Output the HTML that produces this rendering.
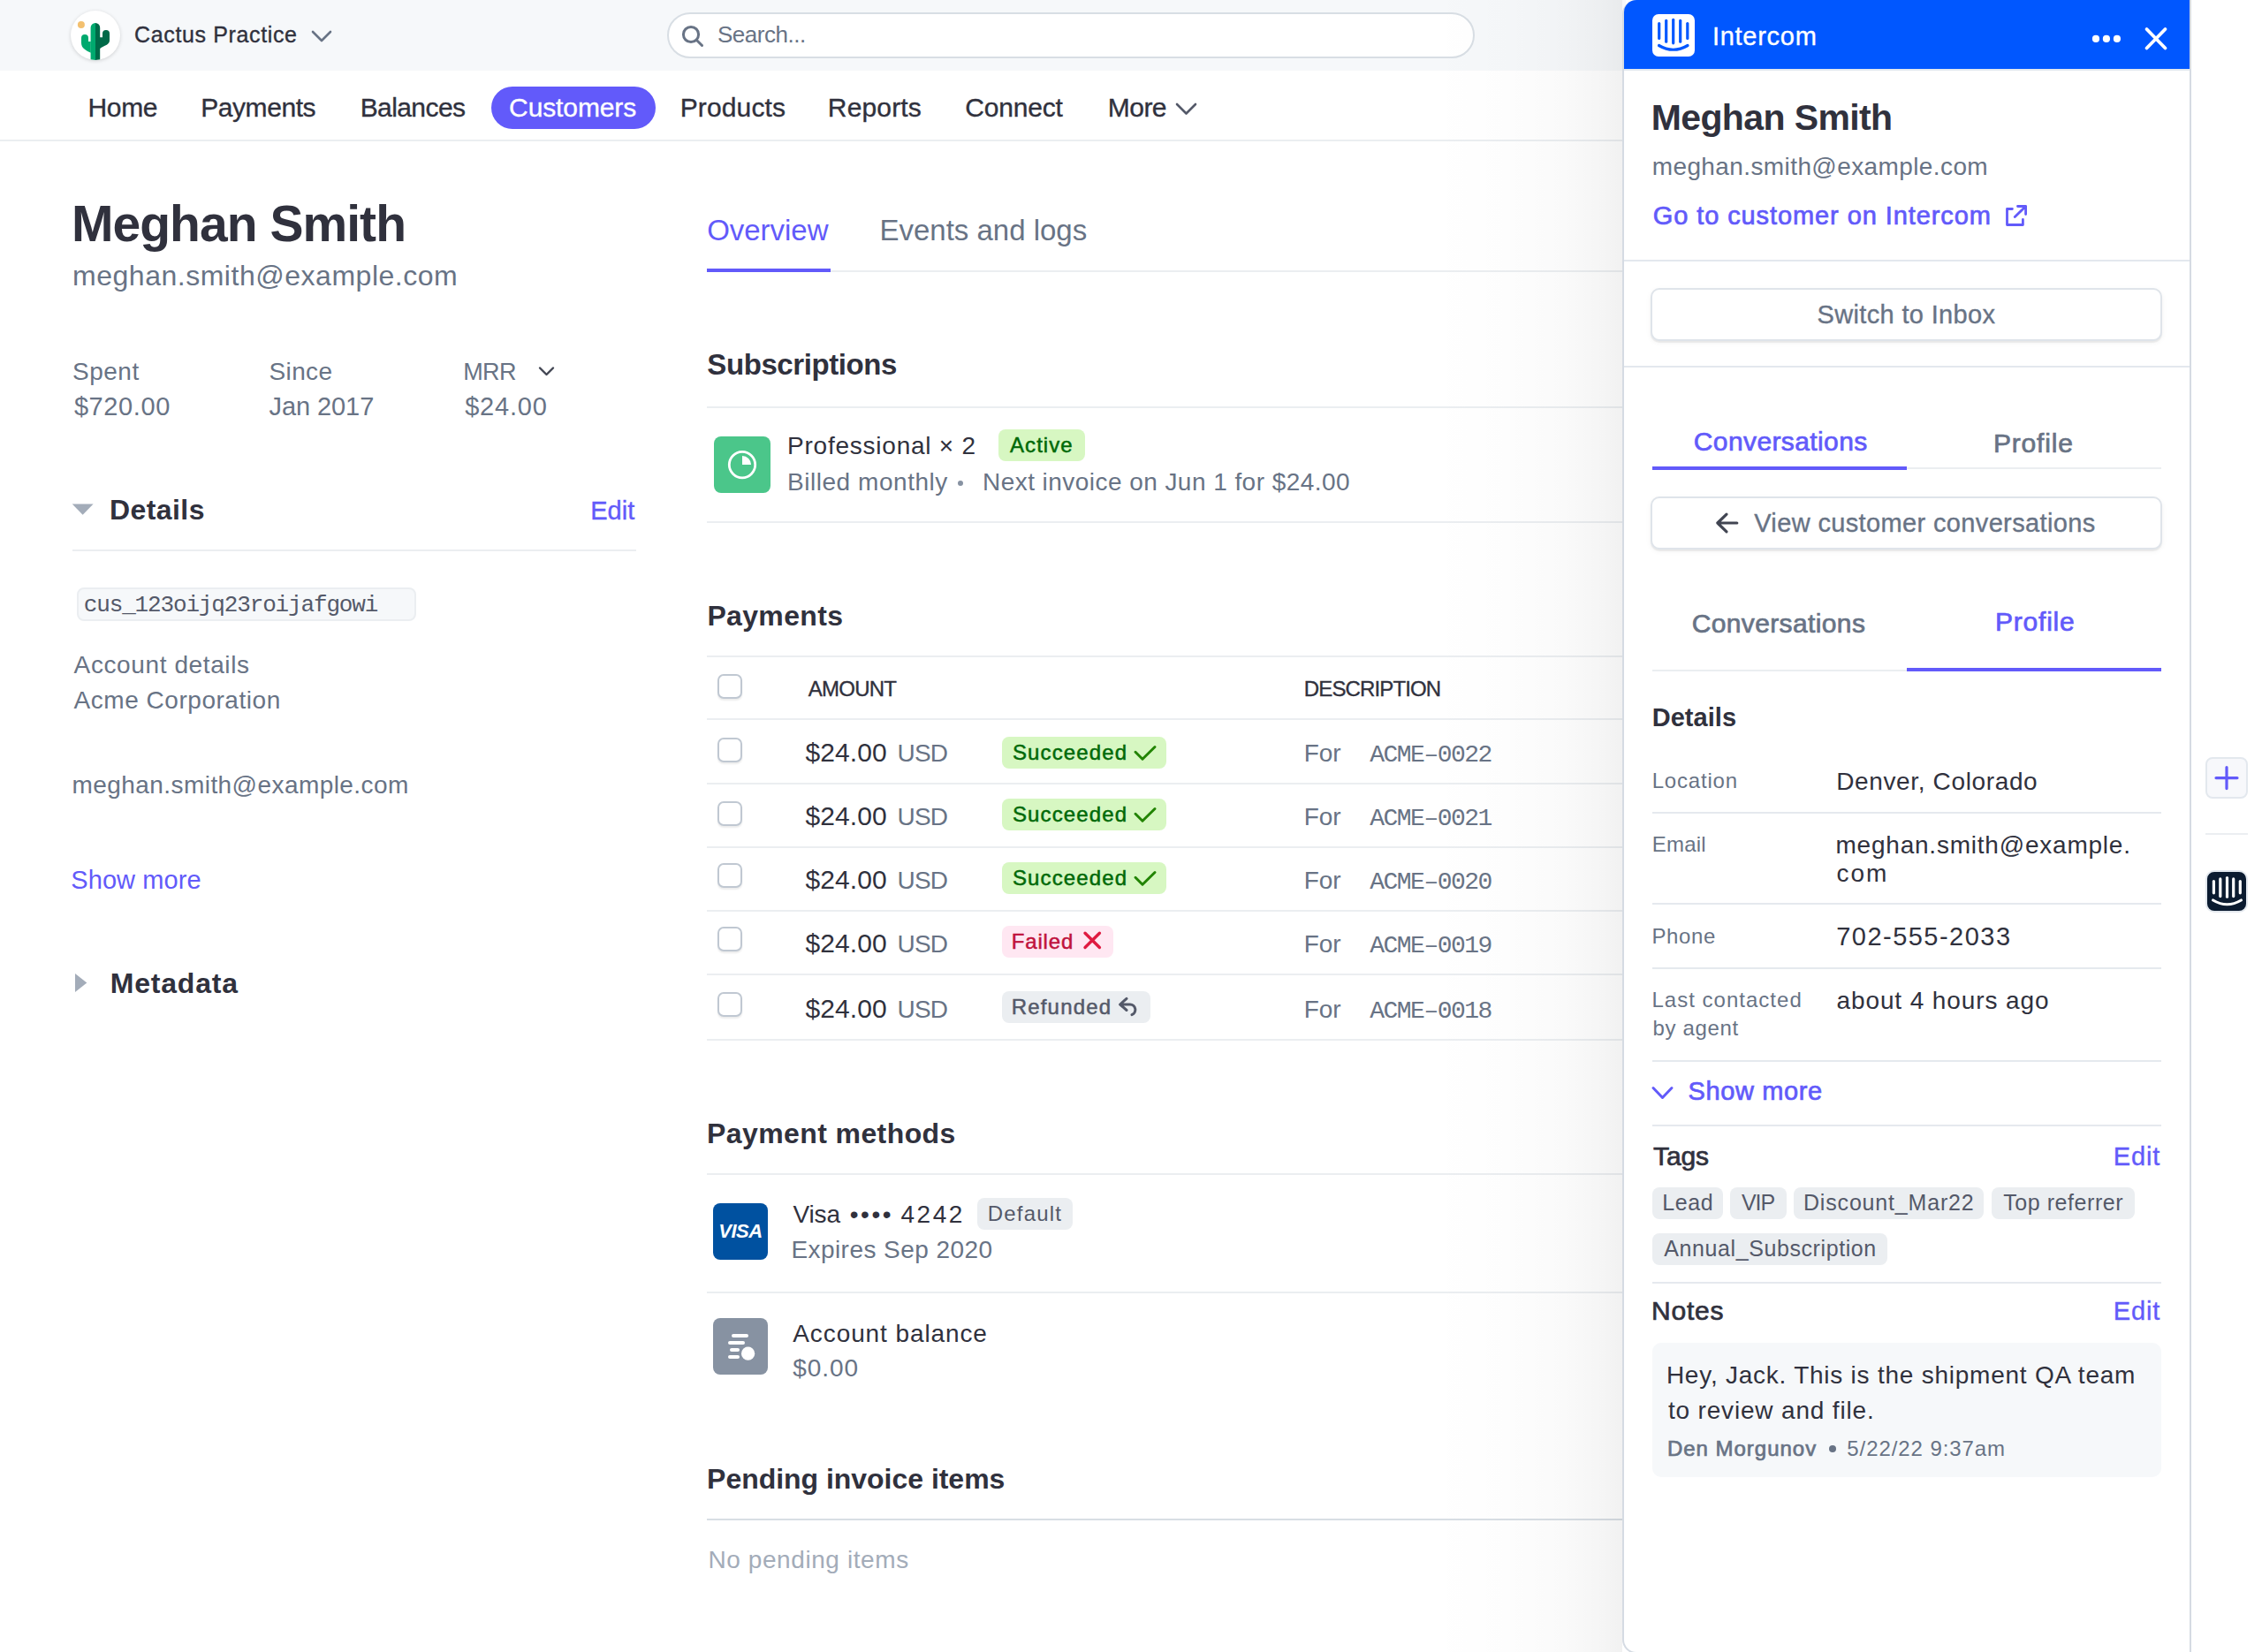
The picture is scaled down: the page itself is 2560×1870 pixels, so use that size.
<!DOCTYPE html>
<html><head><meta charset='utf-8'><title>Customer - Meghan Smith</title>
<style>
html,body{margin:0;padding:0}
body{width:2560px;height:1870px;overflow:hidden;position:relative;background:#fff;font-family:"Liberation Sans",sans-serif}
.t{position:absolute;white-space:pre}
</style></head><body>
<div style='position:absolute;left:0px;top:0px;width:1840px;height:80px;background:#f6f8fa'></div>
<div style='position:absolute;left:0px;top:158px;width:1840px;height:2px;background:#ebeef1'></div>
<div style='position:absolute;left:80px;top:12px;width:56px;height:56px;border-radius:50%;background:#fff;box-shadow:0 1px 4px rgba(0,0,0,0.16);overflow:hidden'>
<svg width='56' height='56' viewBox='0 0 56 56' style='position:absolute;left:0;top:0'>
<circle cx='11.9' cy='15.9' r='4' fill='#f3c06f'/>
<path d='M22.6,60 V19.3 A5.3,5.3 0 0 1 28,14 V60 Z' fill='#00a96e'/>
<path d='M28,60 V14 A5.3,5.3 0 0 1 33.2,19.3 V60 Z' fill='#006a48'/>
<path d='M12,30.9 A4,4 0 0 1 20,30.9 V34.9 H22.8 V47.7 C17,45 12,42.5 12,36.5 Z' fill='#00a96e'/>
<path d='M44,26 A4,4 0 0 0 36,26 V30.3 H33 V43 C38,39.5 44,38.5 44,33.7 Z' fill='#006a48'/>
</svg></div>
<svg style='position:absolute;left:350px;top:30px' width='30' height='22'><polyline points='4,6 14,16 24,6' fill='none' stroke='#687385' stroke-width='2.6' stroke-linecap='round' stroke-linejoin='round'/></svg>
<div style='position:absolute;left:755px;top:14px;width:914px;height:52px;box-sizing:border-box;border:2px solid #d8dee4;border-radius:26px;background:#fff'></div>
<svg style='position:absolute;left:766px;top:24px' width='36' height='34'><circle cx='16' cy='15' r='8.6' fill='none' stroke='#687385' stroke-width='3'/><line x1='22.5' y1='21.5' x2='28.5' y2='27.5' stroke='#687385' stroke-width='3' stroke-linecap='round'/></svg>
<div style='position:absolute;left:556px;top:98px;width:186px;height:48px;background:#625afa;border-radius:24px'></div>
<svg style='position:absolute;left:1326px;top:110px' width='34' height='26'><polyline points='6,8 16.5,18.5 27,8' fill='none' stroke='#545969' stroke-width='2.6' stroke-linecap='round' stroke-linejoin='round'/></svg>
<svg style='position:absolute;left:604px;top:408px' width='30' height='26'><polyline points='7,8.5 14.5,16 22,8.5' fill='none' stroke='#414552' stroke-width='2.4' stroke-linecap='round' stroke-linejoin='round'/></svg>
<svg style='position:absolute;left:78px;top:565px' width='32' height='22'><polygon points='3.7,5.4 27.6,5.4 15.65,17.7' fill='#a3acb9'/></svg>
<div style='position:absolute;left:82px;top:622px;width:638px;height:2px;background:#ebeef1'></div>
<div style='position:absolute;left:87px;top:665px;width:384px;height:38px;box-sizing:border-box;background:#f6f8fa;border:2px solid #ebeef1;border-radius:8px'></div>
<svg style='position:absolute;left:80px;top:1098px' width='24' height='32'><polygon points='5,4 5,25 18.3,14.5' fill='#a3acb9'/></svg>
<div style='position:absolute;left:800px;top:306px;width:1100px;height:2px;background:#ebeef1'></div>
<div style='position:absolute;left:800px;top:304px;width:140px;height:4px;background:#625afa'></div>
<div style='position:absolute;left:800px;top:460px;width:1100px;height:2px;background:#ebeef1'></div>
<div style='position:absolute;left:808px;top:494px;width:64px;height:64px;background:#4bc68a;border-radius:8px'></div>
<svg style='position:absolute;left:808px;top:494px' width='64' height='64'><circle cx='32' cy='32.1' r='14.7' fill='none' stroke='#fff' stroke-width='2.8'/><path d='M32,32.1 V22 A10.1,10.1 0 0 1 42.1,32.1 Z' fill='#fff'/></svg>
<div style='position:absolute;left:1130px;top:486px;width:98px;height:36px;background:#d7f7c2;border-radius:8px'></div>
<div style='position:absolute;left:1084px;top:543.7px;width:6px;height:6px;background:#8792a2;border-radius:50%'></div>
<div style='position:absolute;left:800px;top:590px;width:1100px;height:2px;background:#ebeef1'></div>
<div style='position:absolute;left:800px;top:742px;width:1100px;height:2px;background:#ebeef1'></div>
<div style='position:absolute;left:800px;top:813px;width:1100px;height:2px;background:#ebeef1'></div>
<div style='position:absolute;left:812px;top:763px;width:28px;height:28px;box-sizing:border-box;border:2px solid #c0c8d2;border-radius:7px;background:#fff;box-shadow:0 2px 2px rgba(0,0,0,0.08)'></div>
<div style='position:absolute;left:800px;top:886px;width:1100px;height:2px;background:#ebeef1'></div>
<div style='position:absolute;left:812px;top:835px;width:28px;height:28px;box-sizing:border-box;border:2px solid #c0c8d2;border-radius:7px;background:#fff;box-shadow:0 2px 2px rgba(0,0,0,0.08)'></div>
<div style='position:absolute;left:800px;top:958px;width:1100px;height:2px;background:#ebeef1'></div>
<div style='position:absolute;left:812px;top:907px;width:28px;height:28px;box-sizing:border-box;border:2px solid #c0c8d2;border-radius:7px;background:#fff;box-shadow:0 2px 2px rgba(0,0,0,0.08)'></div>
<div style='position:absolute;left:800px;top:1030px;width:1100px;height:2px;background:#ebeef1'></div>
<div style='position:absolute;left:812px;top:977px;width:28px;height:28px;box-sizing:border-box;border:2px solid #c0c8d2;border-radius:7px;background:#fff;box-shadow:0 2px 2px rgba(0,0,0,0.08)'></div>
<div style='position:absolute;left:800px;top:1102px;width:1100px;height:2px;background:#ebeef1'></div>
<div style='position:absolute;left:812px;top:1049px;width:28px;height:28px;box-sizing:border-box;border:2px solid #c0c8d2;border-radius:7px;background:#fff;box-shadow:0 2px 2px rgba(0,0,0,0.08)'></div>
<div style='position:absolute;left:800px;top:1176px;width:1100px;height:2px;background:#ebeef1'></div>
<div style='position:absolute;left:812px;top:1123px;width:28px;height:28px;box-sizing:border-box;border:2px solid #c0c8d2;border-radius:7px;background:#fff;box-shadow:0 2px 2px rgba(0,0,0,0.08)'></div>
<div style='position:absolute;left:1134px;top:834px;width:186px;height:36px;background:#d7f7c2;border-radius:8px'></div>
<svg style='position:absolute;left:1278px;top:838px' width='36' height='28'><polyline points='7,13.3 15,21.2 29,7.5' fill='none' stroke='#228403' stroke-width='3' stroke-linecap='round' stroke-linejoin='round'/></svg>
<div style='position:absolute;left:1134px;top:904px;width:186px;height:36px;background:#d7f7c2;border-radius:8px'></div>
<svg style='position:absolute;left:1278px;top:908px' width='36' height='28'><polyline points='7,13.3 15,21.2 29,7.5' fill='none' stroke='#228403' stroke-width='3' stroke-linecap='round' stroke-linejoin='round'/></svg>
<div style='position:absolute;left:1134px;top:976px;width:186px;height:36px;background:#d7f7c2;border-radius:8px'></div>
<svg style='position:absolute;left:1278px;top:980px' width='36' height='28'><polyline points='7,13.3 15,21.2 29,7.5' fill='none' stroke='#228403' stroke-width='3' stroke-linecap='round' stroke-linejoin='round'/></svg>
<div style='position:absolute;left:1134px;top:1048px;width:125.5px;height:36px;background:#ffe7f2;border-radius:8px'></div>
<svg style='position:absolute;left:1222px;top:1052px' width='28' height='28'><path d='M6,4.2 L22.4,20.5 M22.4,4.2 L6,20.5' fill='none' stroke='#df1b41' stroke-width='3.4' stroke-linecap='round'/></svg>
<div style='position:absolute;left:1134px;top:1122px;width:167.5px;height:36px;background:#ebeef1;border-radius:8px'></div>
<svg style='position:absolute;left:1262px;top:1125px' width='32' height='30'><path d='M13,5.4 L5.6,12 L13,18.5 M5.6,12 H17 A6,6 0 0 1 19,23.6' fill='none' stroke='#545969' stroke-width='3' stroke-linecap='round' stroke-linejoin='round'/></svg>
<div style='position:absolute;left:800px;top:1328px;width:1100px;height:2px;background:#ebeef1'></div>
<div style='position:absolute;left:807px;top:1362px;width:62px;height:64px;background:#0051a0;border-radius:8px'></div>
<div style='position:absolute;left:807px;top:1380px;width:62px;text-align:center;font-family:"Liberation Sans",sans-serif;font-weight:700;font-style:italic;font-size:22px;line-height:28px;color:#fff;letter-spacing:-0.5px'>VISA</div>
<div style='position:absolute;left:1106px;top:1356px;width:108px;height:36px;background:#ebeef1;border-radius:8px'></div>
<div style='position:absolute;left:800px;top:1462px;width:1100px;height:2px;background:#ebeef1'></div>
<div style='position:absolute;left:807px;top:1492px;width:62px;height:64px;background:#8792a2;border-radius:8px'></div>
<svg style='position:absolute;left:807px;top:1492px' width='62' height='64'><g stroke='#fff' stroke-width='4' stroke-linecap='round'><line x1='23' y1='20' x2='38' y2='20'/><line x1='19' y1='28' x2='34' y2='28'/><line x1='21' y1='36' x2='28' y2='36'/><line x1='19' y1='44' x2='28' y2='44'/></g><circle cx='39.6' cy='40.2' r='7.6' fill='#fff'/></svg>
<div style='position:absolute;left:800px;top:1719px;width:1100px;height:2px;background:#d8dee4'></div>
<div style='position:absolute;left:2496px;top:857px;width:48px;height:47px;box-sizing:border-box;border:2px solid #e3e8ee;border-radius:8px;background:#f7f8fb'></div>
<svg style='position:absolute;left:2496px;top:857px' width='48' height='47'><path d='M24,11.6 V35.6 M12,23.6 H36' stroke='#625afa' stroke-width='3.2' stroke-linecap='round'/></svg>
<div style='position:absolute;left:2496px;top:943px;width:48px;height:2px;background:#ebeef1'></div>
<div style='position:absolute;left:2496px;top:985px;width:48px;height:48px;box-sizing:border-box;border:2px solid #e3e8ee;border-radius:10px;background:#0b1b30'></div>
<svg style='position:absolute;left:2498px;top:987px' width='44' height='45'><g stroke='#fff' stroke-width='3.2' stroke-linecap='round' fill='none'><line x1='7.4' y1='10.6' x2='7.4' y2='23.8'/><line x1='14.8' y1='7.9' x2='14.8' y2='27.6'/><line x1='22.5' y1='6.6' x2='22.5' y2='28.2'/><line x1='29.7' y1='7.9' x2='29.7' y2='27.6'/><line x1='37.3' y1='10.6' x2='37.3' y2='23.8'/><path d='M6.6,32 Q22.5,41.5 38.4,32'/></g></svg>
<div style='position:absolute;left:1616px;top:0px;width:220px;height:1870px;background:linear-gradient(to right, rgba(0,0,0,0) 0%, rgba(0,0,0,0.008) 40%, rgba(0,0,0,0.02) 70%, rgba(0,0,0,0.038) 90%, rgba(0,0,0,0.055) 100%)'></div>
<div style='position:absolute;left:1836px;top:0px;width:644px;height:1872px;box-sizing:border-box;border:2px solid #d5dbe3;border-top:0;border-radius:16px 0 0 16px;background:#fff'></div>
<div style='position:absolute;left:1838px;top:0px;width:640px;height:78px;background:#0057ff;border-top-left-radius:14px'></div>
<div style='position:absolute;left:1838px;top:78px;width:640px;height:2px;background:#e3e8ee'></div>
<div style='position:absolute;left:1870px;top:16px;width:48px;height:48px;background:#fff;border-radius:7px'></div>
<svg style='position:absolute;left:1870px;top:16px' width='48' height='48'><g stroke='#0057ff' stroke-width='3.2' stroke-linecap='round' fill='none'><line x1='7.7' y1='10.5' x2='7.7' y2='27.5'/><line x1='15.7' y1='7.3' x2='15.7' y2='31.2'/><line x1='23.7' y1='6.3' x2='23.7' y2='32.8'/><line x1='31.7' y1='7.3' x2='31.7' y2='31.2'/><line x1='39.8' y1='10.5' x2='39.8' y2='27.5'/><path d='M7.5,35.5 Q23.7,45 40,35.5'/></g></svg>
<svg style='position:absolute;left:2360px;top:30px' width='100' height='30'><circle cx='12' cy='13.9' r='4.1' fill='#fff'/><circle cx='23.9' cy='13.9' r='4.1' fill='#fff'/><circle cx='35.9' cy='13.9' r='4.1' fill='#fff'/><path d='M69.5,3 L90.5,24.5 M90.5,3 L69.5,24.5' stroke='#fff' stroke-width='3.8' stroke-linecap='round'/></svg>
<svg style='position:absolute;left:2262px;top:226px' width='40' height='36'><g fill='none' stroke='#625afa' stroke-width='2.8' stroke-linecap='round' stroke-linejoin='round'><path d='M15.4,10.5 H9.5 V28.5 H27.4 V22.5'/><path d='M18.3,19.6 L30.6,7.5 M21.5,7.5 H30.6 V16.6'/></g></svg>
<div style='position:absolute;left:1838px;top:294px;width:640px;height:2px;background:#e3e8ee'></div>
<div style='position:absolute;left:1868px;top:326px;width:579px;height:60px;box-sizing:border-box;border:2px solid #dfe4ea;border-radius:10px;background:#fff;box-shadow:0 2px 1px rgba(0,0,0,0.06), 0 2px 6px rgba(0,0,0,0.05)'></div>
<div style='position:absolute;left:1838px;top:414px;width:640px;height:2px;background:#e3e8ee'></div>
<div style='position:absolute;left:2158px;top:529px;width:288px;height:2px;background:#ebeef1'></div>
<div style='position:absolute;left:1870px;top:528px;width:288px;height:4px;background:#625afa'></div>
<div style='position:absolute;left:1868px;top:562px;width:579px;height:60px;box-sizing:border-box;border:2px solid #dfe4ea;border-radius:10px;background:#fff;box-shadow:0 2px 1px rgba(0,0,0,0.06), 0 2px 6px rgba(0,0,0,0.05)'></div>
<svg style='position:absolute;left:1936px;top:576px' width='36' height='32'><g fill='none' stroke='#414552' stroke-width='3.2' stroke-linecap='round' stroke-linejoin='round'><path d='M18,6.2 L7.8,16 L18,25.8 M7.8,16 H29.8'/></g></svg>
<div style='position:absolute;left:1870px;top:758px;width:288px;height:2px;background:#ebeef1'></div>
<div style='position:absolute;left:2158px;top:756px;width:288px;height:4px;background:#625afa'></div>
<div style='position:absolute;left:1870px;top:919px;width:576px;height:2px;background:#e5e9ee'></div>
<div style='position:absolute;left:1870px;top:1022px;width:576px;height:2px;background:#e5e9ee'></div>
<div style='position:absolute;left:1870px;top:1095px;width:576px;height:2px;background:#e5e9ee'></div>
<div style='position:absolute;left:1870px;top:1200px;width:576px;height:2px;background:#e5e9ee'></div>
<div style='position:absolute;left:1870px;top:1273px;width:576px;height:2px;background:#e5e9ee'></div>
<div style='position:absolute;left:1870px;top:1451px;width:576px;height:2px;background:#e5e9ee'></div>
<svg style='position:absolute;left:1866px;top:1226px' width='32' height='24'><polyline points='5,5.5 15.5,16.5 26,5.5' fill='none' stroke='#625afa' stroke-width='3' stroke-linecap='round' stroke-linejoin='round'/></svg>
<div style='position:absolute;left:1870px;top:1344px;width:79.6px;height:36px;background:#ebeef1;border-radius:8px'></div>
<div style='position:absolute;left:1958px;top:1344px;width:63.6px;height:36px;background:#ebeef1;border-radius:8px'></div>
<div style='position:absolute;left:2030px;top:1344px;width:215.4px;height:36px;background:#ebeef1;border-radius:8px'></div>
<div style='position:absolute;left:2254px;top:1344px;width:161.6px;height:36px;background:#ebeef1;border-radius:8px'></div>
<div style='position:absolute;left:1870px;top:1396px;width:265.7px;height:36px;background:#ebeef1;border-radius:8px'></div>
<div style='position:absolute;left:1870px;top:1520px;width:576px;height:152px;background:#f6f8fa;border-radius:10px'></div>
<div style='position:absolute;left:2069.5px;top:1636px;width:8px;height:8px;background:#687385;border-radius:50%'></div>
<div class=t style='left:152.0px;top:27.1px;font-size:25px;line-height:25px;font-weight:400;color:#30313d;letter-spacing:0.64px;font-family:"Liberation Sans",sans-serif;-webkit-text-stroke:0.35px #30313d;'>Cactus Practice</div>
<div class=t style='left:811.9px;top:26.4px;font-size:26px;line-height:26px;font-weight:400;color:#687385;letter-spacing:-0.45px;font-family:"Liberation Sans",sans-serif;'>Search...</div>
<div class=t style='left:99.5px;top:107.1px;font-size:30px;line-height:30px;font-weight:400;color:#30313d;letter-spacing:-0.33px;font-family:"Liberation Sans",sans-serif;-webkit-text-stroke:0.35px #30313d;'>Home</div>
<div class=t style='left:227.2px;top:107.1px;font-size:30px;line-height:30px;font-weight:400;color:#30313d;letter-spacing:-0.43px;font-family:"Liberation Sans",sans-serif;-webkit-text-stroke:0.35px #30313d;'>Payments</div>
<div class=t style='left:407.7px;top:107.1px;font-size:30px;line-height:30px;font-weight:400;color:#30313d;letter-spacing:-0.59px;font-family:"Liberation Sans",sans-serif;-webkit-text-stroke:0.35px #30313d;'>Balances</div>
<div class=t style='left:576.1px;top:107.1px;font-size:30px;line-height:30px;font-weight:400;color:#ffffff;letter-spacing:-0.11px;font-family:"Liberation Sans",sans-serif;-webkit-text-stroke:0.35px #ffffff;'>Customers</div>
<div class=t style='left:769.7px;top:107.1px;font-size:30px;line-height:30px;font-weight:400;color:#30313d;letter-spacing:0.14px;font-family:"Liberation Sans",sans-serif;-webkit-text-stroke:0.35px #30313d;'>Products</div>
<div class=t style='left:936.8px;top:107.1px;font-size:30px;line-height:30px;font-weight:400;color:#30313d;letter-spacing:0.17px;font-family:"Liberation Sans",sans-serif;-webkit-text-stroke:0.35px #30313d;'>Reports</div>
<div class=t style='left:1092.3px;top:107.1px;font-size:30px;line-height:30px;font-weight:400;color:#30313d;letter-spacing:-0.18px;font-family:"Liberation Sans",sans-serif;-webkit-text-stroke:0.35px #30313d;'>Connect</div>
<div class=t style='left:1253.8px;top:107.1px;font-size:30px;line-height:30px;font-weight:400;color:#30313d;letter-spacing:-0.53px;font-family:"Liberation Sans",sans-serif;-webkit-text-stroke:0.35px #30313d;'>More</div>
<div class=t style='left:81.0px;top:224.5px;font-size:57px;line-height:57px;font-weight:700;color:#30313d;letter-spacing:-0.96px;font-family:"Liberation Sans",sans-serif;'>Meghan Smith</div>
<div class=t style='left:82.0px;top:296.4px;font-size:32px;line-height:32px;font-weight:400;color:#687385;letter-spacing:0.52px;font-family:"Liberation Sans",sans-serif;'>meghan.smith@example.com</div>
<div class=t style='left:82.1px;top:407.1px;font-size:28px;line-height:28px;font-weight:400;color:#687385;letter-spacing:0.48px;font-family:"Liberation Sans",sans-serif;'>Spent</div>
<div class=t style='left:304.6px;top:407.1px;font-size:28px;line-height:28px;font-weight:400;color:#687385;letter-spacing:0.35px;font-family:"Liberation Sans",sans-serif;'>Since</div>
<div class=t style='left:524.2px;top:408.1px;font-size:27px;line-height:27px;font-weight:400;color:#687385;letter-spacing:-0.65px;font-family:"Liberation Sans",sans-serif;'>MRR</div>
<div class=t style='left:83.9px;top:446.0px;font-size:29px;line-height:29px;font-weight:400;color:#687385;letter-spacing:0.60px;font-family:"Liberation Sans",sans-serif;'>$720.00</div>
<div class=t style='left:304.6px;top:446.0px;font-size:29px;line-height:29px;font-weight:400;color:#687385;letter-spacing:-0.09px;font-family:"Liberation Sans",sans-serif;'>Jan 2017</div>
<div class=t style='left:526.2px;top:446.0px;font-size:29px;line-height:29px;font-weight:400;color:#687385;letter-spacing:0.78px;font-family:"Liberation Sans",sans-serif;'>$24.00</div>
<div class=t style='left:124.0px;top:560.9px;font-size:32px;line-height:32px;font-weight:700;color:#30313d;letter-spacing:0.42px;font-family:"Liberation Sans",sans-serif;'>Details</div>
<div class=t style='left:668.2px;top:563.9px;font-size:29px;line-height:29px;font-weight:400;color:#625afa;letter-spacing:0.07px;font-family:"Liberation Sans",sans-serif;-webkit-text-stroke:0.35px #625afa;'>Edit</div>
<div class=t style='left:94.8px;top:672.4px;font-size:26px;line-height:26px;font-weight:400;color:#545969;letter-spacing:-1.15px;font-family:"Liberation Mono",monospace;'>cus_123oijq23roijafgowi</div>
<div class=t style='left:83.6px;top:739.2px;font-size:28px;line-height:28px;font-weight:400;color:#687385;letter-spacing:0.61px;font-family:"Liberation Sans",sans-serif;'>Account details</div>
<div class=t style='left:83.6px;top:779.1px;font-size:28px;line-height:28px;font-weight:400;color:#687385;letter-spacing:0.53px;font-family:"Liberation Sans",sans-serif;'>Acme Corporation</div>
<div class=t style='left:81.6px;top:875.1px;font-size:28px;line-height:28px;font-weight:400;color:#687385;letter-spacing:0.43px;font-family:"Liberation Sans",sans-serif;'>meghan.smith@example.com</div>
<div class=t style='left:80.2px;top:982.0px;font-size:29px;line-height:29px;font-weight:400;color:#625afa;letter-spacing:0.11px;font-family:"Liberation Sans",sans-serif;'>Show more</div>
<div class=t style='left:124.7px;top:1097.0px;font-size:32px;line-height:32px;font-weight:700;color:#30313d;letter-spacing:0.80px;font-family:"Liberation Sans",sans-serif;'>Metadata</div>
<div class=t style='left:800.2px;top:244.3px;font-size:33px;line-height:33px;font-weight:400;color:#625afa;letter-spacing:-0.03px;font-family:"Liberation Sans",sans-serif;'>Overview</div>
<div class=t style='left:995.5px;top:244.3px;font-size:33px;line-height:33px;font-weight:400;color:#687385;letter-spacing:-0.01px;font-family:"Liberation Sans",sans-serif;'>Events and logs</div>
<div class=t style='left:800.3px;top:396.4px;font-size:33px;line-height:33px;font-weight:700;color:#30313d;letter-spacing:-0.41px;font-family:"Liberation Sans",sans-serif;'>Subscriptions</div>
<div class=t style='left:891.0px;top:491.4px;font-size:28px;line-height:28px;font-weight:400;color:#30313d;letter-spacing:0.77px;font-family:"Liberation Sans",sans-serif;'>Professional × 2</div>
<div class=t style='left:1143.0px;top:491.7px;font-size:24px;line-height:24px;font-weight:400;color:#006908;letter-spacing:1.06px;font-family:"Liberation Sans",sans-serif;-webkit-text-stroke:0.5px #006908;'>Active</div>
<div class=t style='left:891.0px;top:532.3px;font-size:28px;line-height:28px;font-weight:400;color:#687385;letter-spacing:0.54px;font-family:"Liberation Sans",sans-serif;'>Billed monthly</div>
<div class=t style='left:1112.0px;top:532.3px;font-size:28px;line-height:28px;font-weight:400;color:#687385;letter-spacing:0.45px;font-family:"Liberation Sans",sans-serif;'>Next invoice on Jun 1 for $24.00</div>
<div class=t style='left:800.4px;top:680.8px;font-size:32px;line-height:32px;font-weight:700;color:#30313d;letter-spacing:0.34px;font-family:"Liberation Sans",sans-serif;'>Payments</div>
<div class=t style='left:914.7px;top:768.4px;font-size:24px;line-height:24px;font-weight:400;color:#30313d;letter-spacing:-0.74px;font-family:"Liberation Sans",sans-serif;-webkit-text-stroke:0.35px #30313d;'>AMOUNT</div>
<div class=t style='left:1475.8px;top:767.9px;font-size:24px;line-height:24px;font-weight:400;color:#30313d;letter-spacing:-0.87px;font-family:"Liberation Sans",sans-serif;-webkit-text-stroke:0.35px #30313d;'>DESCRIPTION</div>
<div class=t style='left:800.1px;top:1267.4px;font-size:32px;line-height:32px;font-weight:700;color:#30313d;letter-spacing:0.40px;font-family:"Liberation Sans",sans-serif;'>Payment methods</div>
<div class=t style='left:897.4px;top:1361.0px;font-size:28px;line-height:28px;font-weight:400;color:#30313d;letter-spacing:-0.13px;font-family:"Liberation Sans",sans-serif;'>Visa</div>
<div class=t style='left:961.8px;top:1361.0px;font-size:28px;line-height:28px;font-weight:400;color:#30313d;letter-spacing:2.50px;font-family:"Liberation Sans",sans-serif;'>••••</div>
<div class=t style='left:1019.5px;top:1361.0px;font-size:28px;line-height:28px;font-weight:400;color:#30313d;letter-spacing:2.50px;font-family:"Liberation Sans",sans-serif;'>4242</div>
<div class=t style='left:1117.7px;top:1362.1px;font-size:24px;line-height:24px;font-weight:400;color:#545969;letter-spacing:1.20px;font-family:"Liberation Sans",sans-serif;'>Default</div>
<div class=t style='left:895.4px;top:1400.8px;font-size:28px;line-height:28px;font-weight:400;color:#687385;letter-spacing:0.44px;font-family:"Liberation Sans",sans-serif;'>Expires Sep 2020</div>
<div class=t style='left:897.3px;top:1495.5px;font-size:28px;line-height:28px;font-weight:400;color:#30313d;letter-spacing:0.90px;font-family:"Liberation Sans",sans-serif;'>Account balance</div>
<div class=t style='left:897.3px;top:1534.9px;font-size:28px;line-height:28px;font-weight:400;color:#687385;letter-spacing:0.90px;font-family:"Liberation Sans",sans-serif;'>$0.00</div>
<div class=t style='left:800.1px;top:1657.9px;font-size:32px;line-height:32px;font-weight:700;color:#30313d;letter-spacing:-0.03px;font-family:"Liberation Sans",sans-serif;'>Pending invoice items</div>
<div class=t style='left:801.4px;top:1752.0px;font-size:28px;line-height:28px;font-weight:400;color:#a3acb9;letter-spacing:0.59px;font-family:"Liberation Sans",sans-serif;'>No pending items</div>
<div class=t style='left:1937.9px;top:26.9px;font-size:29px;line-height:29px;font-weight:400;color:#ffffff;letter-spacing:0.73px;font-family:"Liberation Sans",sans-serif;-webkit-text-stroke:0.35px #ffffff;'>Intercom</div>
<div class=t style='left:1868.7px;top:112.7px;font-size:41px;line-height:41px;font-weight:700;color:#30313d;letter-spacing:-0.61px;font-family:"Liberation Sans",sans-serif;'>Meghan Smith</div>
<div class=t style='left:1869.7px;top:175.2px;font-size:28px;line-height:28px;font-weight:400;color:#687385;letter-spacing:0.40px;font-family:"Liberation Sans",sans-serif;'>meghan.smith@example.com</div>
<div class=t style='left:1870.7px;top:229.7px;font-size:29px;line-height:29px;font-weight:400;color:#625afa;letter-spacing:0.91px;font-family:"Liberation Sans",sans-serif;-webkit-text-stroke:0.7px #625afa;'>Go to customer on Intercom</div>
<div class=t style='left:2056.6px;top:342.4px;font-size:29px;line-height:29px;font-weight:400;color:#687385;letter-spacing:0.34px;font-family:"Liberation Sans",sans-serif;-webkit-text-stroke:0.35px #687385;'>Switch to Inbox</div>
<div class=t style='left:1916.8px;top:485.4px;font-size:30px;line-height:30px;font-weight:400;color:#625afa;letter-spacing:0.39px;font-family:"Liberation Sans",sans-serif;-webkit-text-stroke:0.7px #625afa;'>Conversations</div>
<div class=t style='left:2255.9px;top:486.5px;font-size:30px;line-height:30px;font-weight:400;color:#687385;letter-spacing:0.83px;font-family:"Liberation Sans",sans-serif;-webkit-text-stroke:0.7px #687385;'>Profile</div>
<div class=t style='left:1985.2px;top:577.9px;font-size:29px;line-height:29px;font-weight:400;color:#687385;letter-spacing:0.36px;font-family:"Liberation Sans",sans-serif;-webkit-text-stroke:0.35px #687385;'>View customer conversations</div>
<div class=t style='left:1914.7px;top:691.0px;font-size:30px;line-height:30px;font-weight:400;color:#687385;letter-spacing:0.37px;font-family:"Liberation Sans",sans-serif;-webkit-text-stroke:0.7px #687385;'>Conversations</div>
<div class=t style='left:2258.0px;top:688.8px;font-size:30px;line-height:30px;font-weight:400;color:#625afa;letter-spacing:0.78px;font-family:"Liberation Sans",sans-serif;-webkit-text-stroke:0.7px #625afa;'>Profile</div>
<div class=t style='left:1869.7px;top:798.1px;font-size:29px;line-height:29px;font-weight:700;color:#30313d;letter-spacing:0.05px;font-family:"Liberation Sans",sans-serif;'>Details</div>
<div class=t style='left:1869.7px;top:872.1px;font-size:24px;line-height:24px;font-weight:400;color:#687385;letter-spacing:0.81px;font-family:"Liberation Sans",sans-serif;'>Location</div>
<div class=t style='left:2078.2px;top:871.1px;font-size:28px;line-height:28px;font-weight:400;color:#30313d;letter-spacing:0.64px;font-family:"Liberation Sans",sans-serif;'>Denver, Colorado</div>
<div class=t style='left:1869.7px;top:943.7px;font-size:24px;line-height:24px;font-weight:400;color:#687385;letter-spacing:0.22px;font-family:"Liberation Sans",sans-serif;'>Email</div>
<div class=t style='left:2077.5px;top:943.4px;font-size:28px;line-height:28px;font-weight:400;color:#30313d;letter-spacing:0.78px;font-family:"Liberation Sans",sans-serif;'>meghan.smith@example.</div>
<div class=t style='left:2078.5px;top:974.6px;font-size:28px;line-height:28px;font-weight:400;color:#30313d;letter-spacing:1.95px;font-family:"Liberation Sans",sans-serif;'>com</div>
<div class=t style='left:1869.4px;top:1048.2px;font-size:24px;line-height:24px;font-weight:400;color:#687385;letter-spacing:0.65px;font-family:"Liberation Sans",sans-serif;'>Phone</div>
<div class=t style='left:2078.2px;top:1045.9px;font-size:29px;line-height:29px;font-weight:400;color:#30313d;letter-spacing:1.48px;font-family:"Liberation Sans",sans-serif;'>702-555-2033</div>
<div class=t style='left:1869.4px;top:1120.1px;font-size:24px;line-height:24px;font-weight:400;color:#687385;letter-spacing:1.02px;font-family:"Liberation Sans",sans-serif;'>Last contacted</div>
<div class=t style='left:1870.4px;top:1152.1px;font-size:24px;line-height:24px;font-weight:400;color:#687385;letter-spacing:0.66px;font-family:"Liberation Sans",sans-serif;'>by agent</div>
<div class=t style='left:2078.5px;top:1118.5px;font-size:28px;line-height:28px;font-weight:400;color:#30313d;letter-spacing:0.89px;font-family:"Liberation Sans",sans-serif;'>about 4 hours ago</div>
<div class=t style='left:1910.5px;top:1221.4px;font-size:29px;line-height:29px;font-weight:400;color:#625afa;letter-spacing:0.62px;font-family:"Liberation Sans",sans-serif;-webkit-text-stroke:0.7px #625afa;'>Show more</div>
<div class=t style='left:1871.1px;top:1293.5px;font-size:30px;line-height:30px;font-weight:400;color:#30313d;letter-spacing:-0.13px;font-family:"Liberation Sans",sans-serif;-webkit-text-stroke:0.7px #30313d;'>Tags</div>
<div class=t style='left:2391.7px;top:1294.5px;font-size:29px;line-height:29px;font-weight:400;color:#625afa;letter-spacing:0.90px;font-family:"Liberation Sans",sans-serif;-webkit-text-stroke:0.35px #625afa;'>Edit</div>
<div class=t style='left:1881.3px;top:1349.2px;font-size:25px;line-height:25px;font-weight:400;color:#545969;letter-spacing:0.57px;font-family:"Liberation Sans",sans-serif;'>Lead</div>
<div class=t style='left:1970.9px;top:1349.2px;font-size:25px;line-height:25px;font-weight:400;color:#545969;letter-spacing:-0.95px;font-family:"Liberation Sans",sans-serif;'>VIP</div>
<div class=t style='left:2041.0px;top:1349.2px;font-size:25px;line-height:25px;font-weight:400;color:#545969;letter-spacing:0.82px;font-family:"Liberation Sans",sans-serif;'>Discount_Mar22</div>
<div class=t style='left:2267.2px;top:1349.2px;font-size:25px;line-height:25px;font-weight:400;color:#545969;letter-spacing:0.56px;font-family:"Liberation Sans",sans-serif;'>Top referrer</div>
<div class=t style='left:1883.3px;top:1400.9px;font-size:25px;line-height:25px;font-weight:400;color:#545969;letter-spacing:0.59px;font-family:"Liberation Sans",sans-serif;'>Annual_Subscription</div>
<div class=t style='left:1869.1px;top:1469.3px;font-size:30px;line-height:30px;font-weight:400;color:#30313d;letter-spacing:0.73px;font-family:"Liberation Sans",sans-serif;-webkit-text-stroke:0.7px #30313d;'>Notes</div>
<div class=t style='left:2391.7px;top:1470.3px;font-size:29px;line-height:29px;font-weight:400;color:#625afa;letter-spacing:0.90px;font-family:"Liberation Sans",sans-serif;-webkit-text-stroke:0.35px #625afa;'>Edit</div>
<div class=t style='left:1885.9px;top:1543.2px;font-size:28px;line-height:28px;font-weight:400;color:#30313d;letter-spacing:0.76px;font-family:"Liberation Sans",sans-serif;'>Hey, Jack. This is the shipment QA team</div>
<div class=t style='left:1887.9px;top:1582.5px;font-size:28px;line-height:28px;font-weight:400;color:#30313d;letter-spacing:0.83px;font-family:"Liberation Sans",sans-serif;'>to review and file.</div>
<div class=t style='left:1886.9px;top:1627.9px;font-size:24px;line-height:24px;font-weight:400;color:#687385;letter-spacing:0.99px;font-family:"Liberation Sans",sans-serif;-webkit-text-stroke:0.7px #687385;'>Den Morgunov</div>
<div class=t style='left:2090.3px;top:1627.9px;font-size:24px;line-height:24px;font-weight:400;color:#687385;letter-spacing:0.92px;font-family:"Liberation Sans",sans-serif;'>5/22/22 9:37am</div>
<div class=t style='left:911.4px;top:837.1px;font-size:30px;line-height:30px;font-weight:400;color:#30313d;letter-spacing:0.10px;font-family:"Liberation Sans",sans-serif;'>$24.00</div>
<div class=t style='left:1015.5px;top:839.1px;font-size:28px;line-height:28px;font-weight:400;color:#687385;letter-spacing:-0.80px;font-family:"Liberation Sans",sans-serif;'>USD</div>
<div class=t style='left:1475.8px;top:838.7px;font-size:28px;line-height:28px;font-weight:400;color:#687385;letter-spacing:-0.15px;font-family:"Liberation Sans",sans-serif;'>For</div>
<div class=t style='left:1550.2px;top:840.7px;font-size:28px;line-height:28px;font-weight:400;color:#687385;letter-spacing:-1.50px;font-family:"Liberation Mono",monospace;'>ACME–0022</div>
<div class=t style='left:1145.9px;top:840.3px;font-size:24px;line-height:24px;font-weight:400;color:#006908;letter-spacing:1.14px;font-family:"Liberation Sans",sans-serif;-webkit-text-stroke:0.5px #006908;'>Succeeded</div>
<div class=t style='left:911.4px;top:909.4px;font-size:30px;line-height:30px;font-weight:400;color:#30313d;letter-spacing:0.10px;font-family:"Liberation Sans",sans-serif;'>$24.00</div>
<div class=t style='left:1015.5px;top:911.4px;font-size:28px;line-height:28px;font-weight:400;color:#687385;letter-spacing:-0.80px;font-family:"Liberation Sans",sans-serif;'>USD</div>
<div class=t style='left:1475.8px;top:911.0px;font-size:28px;line-height:28px;font-weight:400;color:#687385;letter-spacing:-0.15px;font-family:"Liberation Sans",sans-serif;'>For</div>
<div class=t style='left:1550.2px;top:913.0px;font-size:28px;line-height:28px;font-weight:400;color:#687385;letter-spacing:-1.50px;font-family:"Liberation Mono",monospace;'>ACME–0021</div>
<div class=t style='left:1145.9px;top:910.1px;font-size:24px;line-height:24px;font-weight:400;color:#006908;letter-spacing:1.14px;font-family:"Liberation Sans",sans-serif;-webkit-text-stroke:0.5px #006908;'>Succeeded</div>
<div class=t style='left:911.4px;top:981.2px;font-size:30px;line-height:30px;font-weight:400;color:#30313d;letter-spacing:0.10px;font-family:"Liberation Sans",sans-serif;'>$24.00</div>
<div class=t style='left:1015.5px;top:983.2px;font-size:28px;line-height:28px;font-weight:400;color:#687385;letter-spacing:-0.80px;font-family:"Liberation Sans",sans-serif;'>USD</div>
<div class=t style='left:1475.8px;top:982.8px;font-size:28px;line-height:28px;font-weight:400;color:#687385;letter-spacing:-0.15px;font-family:"Liberation Sans",sans-serif;'>For</div>
<div class=t style='left:1550.2px;top:984.8px;font-size:28px;line-height:28px;font-weight:400;color:#687385;letter-spacing:-1.50px;font-family:"Liberation Mono",monospace;'>ACME–0020</div>
<div class=t style='left:1145.9px;top:982.0px;font-size:24px;line-height:24px;font-weight:400;color:#006908;letter-spacing:1.14px;font-family:"Liberation Sans",sans-serif;-webkit-text-stroke:0.5px #006908;'>Succeeded</div>
<div class=t style='left:911.4px;top:1053.1px;font-size:30px;line-height:30px;font-weight:400;color:#30313d;letter-spacing:0.10px;font-family:"Liberation Sans",sans-serif;'>$24.00</div>
<div class=t style='left:1015.5px;top:1055.1px;font-size:28px;line-height:28px;font-weight:400;color:#687385;letter-spacing:-0.80px;font-family:"Liberation Sans",sans-serif;'>USD</div>
<div class=t style='left:1475.8px;top:1054.7px;font-size:28px;line-height:28px;font-weight:400;color:#687385;letter-spacing:-0.15px;font-family:"Liberation Sans",sans-serif;'>For</div>
<div class=t style='left:1550.2px;top:1056.7px;font-size:28px;line-height:28px;font-weight:400;color:#687385;letter-spacing:-1.50px;font-family:"Liberation Mono",monospace;'>ACME–0019</div>
<div class=t style='left:1144.7px;top:1054.0px;font-size:24px;line-height:24px;font-weight:400;color:#c0123c;letter-spacing:0.86px;font-family:"Liberation Sans",sans-serif;-webkit-text-stroke:0.5px #c0123c;'>Failed</div>
<div class=t style='left:911.4px;top:1127.1px;font-size:30px;line-height:30px;font-weight:400;color:#30313d;letter-spacing:0.10px;font-family:"Liberation Sans",sans-serif;'>$24.00</div>
<div class=t style='left:1015.5px;top:1129.1px;font-size:28px;line-height:28px;font-weight:400;color:#687385;letter-spacing:-0.80px;font-family:"Liberation Sans",sans-serif;'>USD</div>
<div class=t style='left:1475.8px;top:1128.7px;font-size:28px;line-height:28px;font-weight:400;color:#687385;letter-spacing:-0.15px;font-family:"Liberation Sans",sans-serif;'>For</div>
<div class=t style='left:1550.2px;top:1130.7px;font-size:28px;line-height:28px;font-weight:400;color:#687385;letter-spacing:-1.50px;font-family:"Liberation Mono",monospace;'>ACME–0018</div>
<div class=t style='left:1144.7px;top:1128.1px;font-size:24px;line-height:24px;font-weight:400;color:#545969;letter-spacing:1.19px;font-family:"Liberation Sans",sans-serif;-webkit-text-stroke:0.5px #545969;'>Refunded</div>
</body></html>
